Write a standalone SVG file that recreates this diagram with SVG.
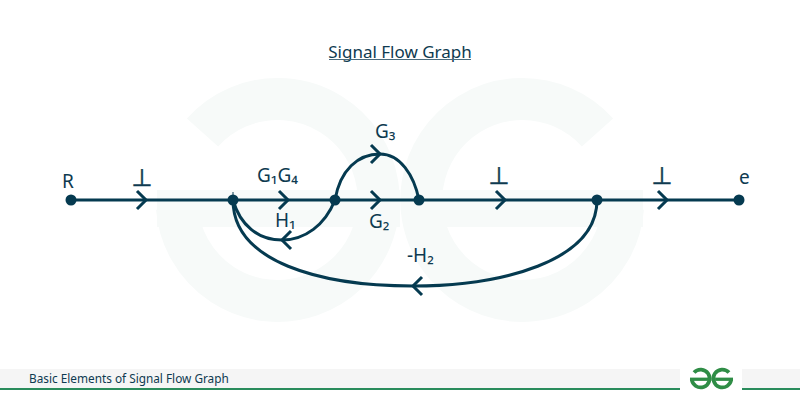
<svg xmlns="http://www.w3.org/2000/svg" width="800" height="400" viewBox="0 0 800 400">
<style>
text{font-family:"Noto Sans","Open Sans",sans-serif;fill:#0e3a50}
.l{font-size:19px}
.p{font-family:"DejaVu Sans",sans-serif;font-size:24px;text-anchor:middle;stroke:#0e3a50;stroke-width:.5}
.w{fill:none;stroke-width:42}
.c{fill:none;stroke:#053a50;stroke-width:3}
.a{fill:none;stroke:#053a50;stroke-width:3}
.n{fill:#053a50}
</style>
<defs>
<g id="gg">
<path d="M202.5 132.5A101 101 0 1 1 177 208" class="w" stroke="currentColor"/>
<rect x="157" y="190" width="243" height="37" fill="currentColor"/>
<path d="M597.5 132.5A101 101 0 1 0 623 208" class="w" stroke="currentColor"/>
<rect x="441" y="190" width="202" height="37" fill="currentColor"/>
</g>
<path id="chev" d="M-9 -9L0 0L-9 9"/>
</defs>
<rect width="800" height="400" fill="#fff"/>
<g id="watermark" color="#f7faf9"><use href="#gg"/></g>
<text x="400" y="58" text-anchor="middle" font-size="17" id="title">Signal Flow Graph</text>
<rect x="329" y="59" width="142" height="1" fill="#4a6b7c"/>
<g id="connectors">
<path class="c" d="M71 200H739"/>
<path class="c" d="M335 200C340 170 358 154 380 154C400 154 414 175 419 200"/>
<path class="c" d="M335 200C325 225 305 240 282 240C258 240 240 225 233 200"/>
<path class="c" d="M597 200C597 262 500 286 413 286C320 286 233 262 233 200"/>
<path d="M233 192V196" stroke="#053a50" stroke-width="1"/>
<use href="#chev" class="a" transform="translate(146 200)"/>
<use href="#chev" class="a" transform="translate(288 200)"/>
<use href="#chev" class="a" transform="translate(380 200)"/>
<use href="#chev" class="a" transform="translate(505 200)"/>
<use href="#chev" class="a" transform="translate(667 200)"/>
<use href="#chev" class="a" transform="translate(380 154)"/>
<use href="#chev" class="a" transform="translate(282 240) rotate(180)"/>
<use href="#chev" class="a" transform="translate(413 286) rotate(180)"/>
</g>
<g id="node-R"><circle class="n" cx="71" cy="200" r="5.5"/><text class="l" x="62" y="188">R</text></g>
<g id="node-a"><circle class="n" cx="233" cy="200" r="5.5"/></g>
<g id="node-b"><circle class="n" cx="335" cy="200" r="5.5"/></g>
<g id="node-c"><circle class="n" cx="419" cy="200" r="5.5"/></g>
<g id="node-d"><circle class="n" cx="597" cy="200" r="5.5"/></g>
<g id="node-e"><circle class="n" cx="739" cy="200" r="5.5"/><text class="l" x="739" y="184">e</text></g>
<g id="labels">
<text class="p" x="142" y="186">⊥</text>
<text class="p" x="499" y="184">⊥</text>
<text class="p" x="662" y="184">⊥</text>
<text class="l" x="257" y="182">G₁G₄</text>
<text class="l" x="275" y="227">H₁</text>
<text class="l" x="369" y="228">G₂</text>
<text class="l" x="375" y="138">G₃</text>
<text class="l" x="407" y="262">-H₂</text>
</g>
<g id="footer">
<rect x="0" y="369" width="800" height="19" fill="#f5f5f5"/>
<rect x="0" y="388" width="800" height="2" fill="#2a8c5c"/>
<rect x="680" y="360" width="62" height="40" fill="#fff"/>
<text x="29" y="383" font-size="11.8">Basic Elements of Signal Flow Graph</text>
<g color="#2f8d46" transform="translate(711.5 378.5) scale(.0885) translate(-400 -200)"><use href="#gg"/></g>
</g>
</svg>
